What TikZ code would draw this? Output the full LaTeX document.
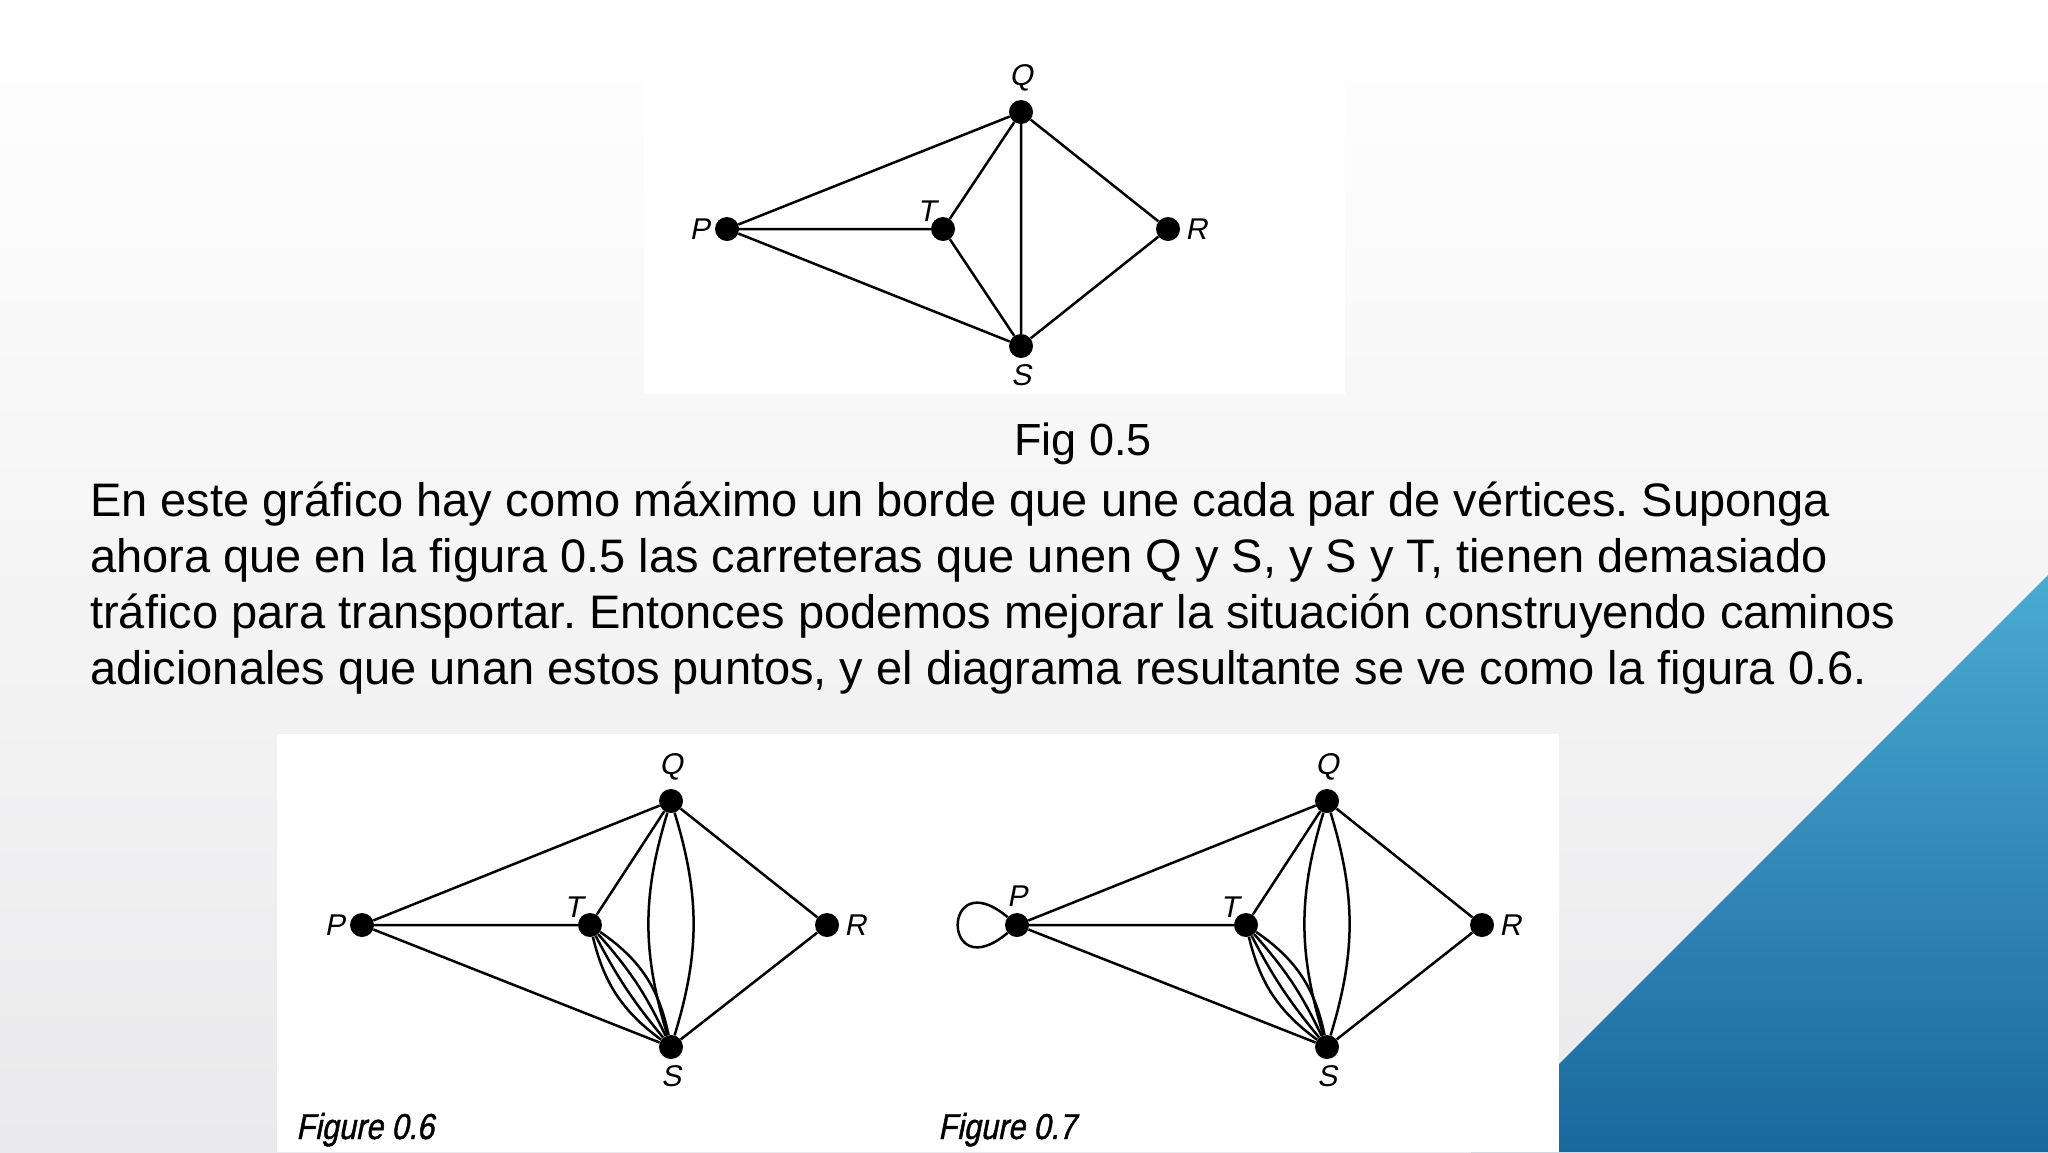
\documentclass[tikz,border=0pt]{standalone}
\usepackage{fontspec}
\setmainfont{Liberation Sans}
\newfontfamily\lblfont[FakeSlant=0.2]{Liberation Sans}
\newfontfamily\capfont[FakeSlant=0.2,FakeStretch=0.85,FakeBold=1.2]{Liberation Sans}
\usetikzlibrary{positioning}
\definecolor{bluetop}{RGB}{74,170,210}
\definecolor{bluebot}{RGB}{26,104,158}
\definecolor{slidegray}{RGB}{234,234,236}
\frenchspacing

\begin{document}
\begin{tikzpicture}[x=1pt,y=-1pt,
  vertex/.style={circle,fill=black,inner sep=0pt,minimum size=24pt},
  vlab/.style={font=\lblfont\fontsize{30}{30}\selectfont,inner sep=0pt},
  road/.style={line width=2.5pt},
  body/.style={font=\fontsize{47}{56}\selectfont,inner sep=0pt,anchor=base west},
  figcap/.style={font=\capfont\fontsize{36}{36}\selectfont,inner sep=0pt,anchor=base west}]
\useasboundingbox (0,0) rectangle (2048,1152);
\shade[top color=white,bottom color=slidegray] (0,0) rectangle (2048,1152);
\shade[top color=bluetop,bottom color=bluebot] (2048,575) -- (2048,1152) -- (1471,1152) -- cycle;
\fill[white] (644,48) rectangle (1345,394);
\fill[white] (277,734) rectangle (1559,1152);

% Fig 0.5
\node[vertex] (P1) at (727,229) {};
\node[vertex] (T1) at (943,229) {};
\node[vertex] (Q1) at (1021,112) {};
\node[vertex] (R1) at (1168,229) {};
\node[vertex] (S1) at (1021,346) {};
\node[vlab,left=5pt of P1] (pl1) {P};
\node[vlab,above left=-2pt of T1] (tl1) {T};
\node[vlab,above=8pt of Q1] (ql1) {Q};
\node[vlab,right=5pt of R1] (rl1) {R};
\node[vlab,below=6pt of S1] (sl1) {S};
\draw[road] (P1)--(Q1) (P1)--(T1) (P1)--(S1) (T1)--(Q1) (T1)--(S1) (Q1)--(S1) (Q1)--(R1) (R1)--(S1);
\node[font=\fontsize{45}{54}\selectfont,inner sep=0pt,anchor=base] (fig5) at (1083,455) {Fig 0.5};

\node[body] (line1) at (90,516) {En este gráfico hay como máximo un borde que une cada par de vértices. Suponga};
\node[body] (line2) at (90,572) {ahora que en la figura 0.5 las carreteras que unen Q y S, y S y T, tienen demasiado};
\node[body] (line3) at (90,628) {tráfico para transportar. Entonces podemos mejorar la situación construyendo caminos};
\node[body] (line4) at (90,684) {adicionales que unan estos puntos, y el diagrama resultante se ve como la figura 0.6.};

% Figure 0.6
\node[vertex] (P2) at (362,925) {};
\node[vertex] (T2) at (590,925) {};
\node[vertex] (Q2) at (671,801) {};
\node[vertex] (R2) at (827,925) {};
\node[vertex] (S2) at (671,1047) {};
\node[vlab,left=5pt of P2] (pl2) {P};
\node[vlab,above left=-2pt of T2] (tl2) {T};
\node[vlab,above=8pt of Q2] (ql2) {Q};
\node[vlab,right=5pt of R2] (rl2) {R};
\node[vlab,below=6pt of S2] (sl2) {S};
\draw[road] (P2)--(Q2) (P2)--(T2) (P2)--(S2) (T2)--(Q2) (Q2)--(R2) (R2)--(S2);
\draw[road] (Q2) to[bend left=17] (S2);
\draw[road] (Q2) to[bend right=17] (S2);
\draw[road] (T2) to[bend left=22] (S2);
\draw[road] (T2) to[bend left=8] (S2);
\draw[road] (T2) to[bend right=6] (S2);
\draw[road] (T2) to[bend right=20] (S2);
\node[figcap] (cap6) at (296,1139) {Figure 0.6};

% Figure 0.7
\node[vertex] (P3) at (1017,925) {};
\node[vertex] (T3) at (1246,925) {};
\node[vertex] (Q3) at (1327,801) {};
\node[vertex] (R3) at (1482,925) {};
\node[vertex] (S3) at (1327,1047) {};
\node[vlab,above=6pt of P3] (pl3) {P};
\node[vlab,above left=-2pt of T3] (tl3) {T};
\node[vlab,above=8pt of Q3] (ql3) {Q};
\node[vlab,right=5pt of R3] (rl3) {R};
\node[vlab,below=6pt of S3] (sl3) {S};
\draw[road] (P3)--(Q3) (P3)--(T3) (P3)--(S3) (T3)--(Q3) (Q3)--(R3) (R3)--(S3);
\draw[road] (P3) to[out=140,in=220,min distance=87pt] (P3);
\draw[road] (Q3) to[bend left=17] (S3);
\draw[road] (Q3) to[bend right=17] (S3);
\draw[road] (T3) to[bend left=22] (S3);
\draw[road] (T3) to[bend left=8] (S3);
\draw[road] (T3) to[bend right=6] (S3);
\draw[road] (T3) to[bend right=20] (S3);
\node[figcap] (cap7) at (938,1139) {Figure 0.7};
\end{tikzpicture}
\end{document}
